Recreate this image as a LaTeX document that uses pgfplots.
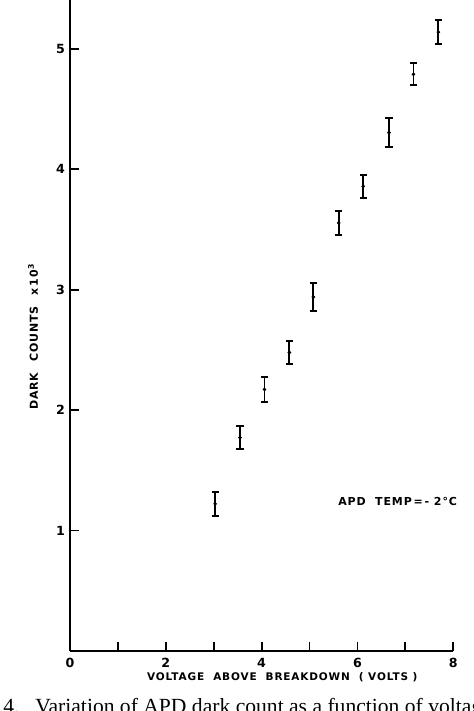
\documentclass[border=0pt]{standalone}
\usepackage{fontspec}
\setmainfont{Liberation Serif}
\newfontfamily\plotfont{DejaVu Sans}[LetterSpace=8]
\usepackage{pgfplots}
\usepackage{pgfplotstable}
\pgfplotsset{compat=1.18}

% dark counts (x 10^3) against voltage above breakdown
\pgfplotstableread{
x     y      e
3.03  1.222  0.101
3.55  1.772  0.097
4.06  2.172  0.106
4.58  2.479  0.098
5.08  2.940  0.114
5.61  3.555  0.100
6.12  3.859  0.094
6.66  4.305  0.119
7.17  4.790  0.091
7.69  5.140  0.101
}\darkcounts

\newcommand\lbl{\plotfont\bfseries\fontsize{5.5}{6.5}\selectfont}
\newcommand\tlbl{\plotfont\bfseries\fontsize{6.3}{7.5}\selectfont}

\begin{document}
\begin{tikzpicture}
\clip (-35pt,-30pt) rectangle (202pt,325.5pt);
\begin{axis}[
    at={(0,0)}, anchor=origin,
    x=23.95pt, y=60.2pt,
    xmin=0, xmax=8, ymin=0, ymax=5.45,
    axis lines=left,
    axis line style={-, line width=0.9pt},
    tick align=inside,
    major tick length=4.5pt,
    tick style={line width=0.9pt, black},
    xtick={0,...,8}, xticklabels={0,,2,,4,,6,,8},
    ytick={1,...,5},
    /pgf/number format/assume math mode=true,
    ticklabel style={font=\tlbl},
    xticklabel style={yshift=-0.2pt},
    yticklabel style={xshift=1pt},
    xlabel={VOLTAGE\ \ ABOVE\ \ BREAKDOWN\ \ ( VOLTS )},
    xlabel style={font=\plotfont\bfseries\fontsize{5.25}{6.5}\selectfont, at={(axis description cs:0.554,0)}, anchor=center, yshift=-13pt},
    ylabel={DARK\quad COUNTS\quad x\,10\textsuperscript{3}},
    ylabel style={font=\lbl, at={(axis description cs:0,0.479)}, anchor=center, yshift=18.5pt},
    clip=false,
]
\addplot[only marks, mark=*, mark size=0.7pt, black,
    error bars/.cd, y dir=both, y explicit,
    error bar style={line width=0.9pt},
    error mark options={rotate=90, mark size=1.8pt, line width=0.9pt}]
    table[x=x, y=y, y error=e] {\darkcounts};
\node[font=\lbl] at (axis cs:6.84,1.24) {APD\ \ TEMP\,=\,-\ 2°C};
\end{axis}
\node[anchor=base east, inner sep=0pt, font=\fontsize{10.8}{13}\selectfont] at (-25pt,-31pt) {Fig. 4.};
\node[anchor=base west, inner sep=0pt, font=\fontsize{10.8}{13}\selectfont] at (-17.5pt,-31pt) {Variation of APD dark count as a function of voltage};
\end{tikzpicture}
\end{document}
